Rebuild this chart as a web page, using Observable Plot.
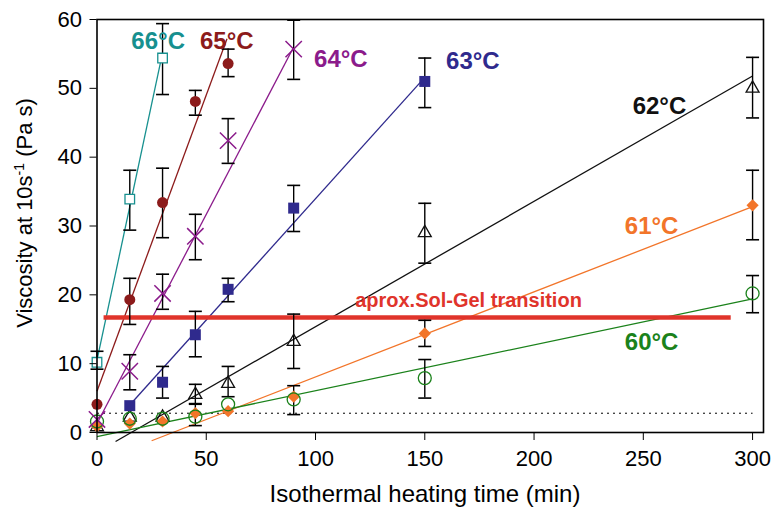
<!DOCTYPE html>
<html><head><meta charset="utf-8">
<script src="https://cdn.jsdelivr.net/npm/d3@7"></script>
<script src="https://cdn.jsdelivr.net/npm/@observablehq/plot@0.6"></script>
<style>body{margin:0;background:#fff} svg{display:block}</style>
</head><body><div id="chart"></div>
<script>
// ---- data ----
const temps = ["66°C","65°C","64°C","63°C","62°C","61°C","60°C"];
const colors = ["#17908f","#8c1b1b","#8b1b8b","#2f2a8d","#111111","#f2752a","#1b821b"];

const t66 = [0,15,30];
const v66 = [10.2,33.9,54.4];
const lo66 = [9.2,29.4,49.1];
const hi66 = [11.8,38.1,59.4];

const t65 = [0,15,30,45,60];
const v65 = [4.1,19.3,33.4,48.1,53.6];
const lo65 = [null,15.7,28.3,46.1,51.7];
const hi65 = [null,22.4,38.4,49.7,55.7];

const t64 = [0,15,30,45,60,90];
const v64 = [1.9,8.9,20.2,28.5,42.4,55.7];
const lo64 = [null,6.2,17.9,25.1,39.1,51.3];
const hi64 = [null,11.3,23.0,31.7,45.6,59.9];

const t63 = [15,30,45,60,90,150];
const v63 = [3.9,7.3,14.2,20.8,32.6,51.0];
const lo63 = [null,5.0,11.0,19.0,29.2,47.2];
const hi63 = [null,9.6,17.6,22.4,35.9,54.4];

const t62 = [0,15,30,45,60,90,150,300];
const v62 = [0.8,2.2,2.2,5.5,7.1,13.2,29.0,50.0];
const lo62 = [null,null,null,4.2,5.2,9.3,24.6,45.7];
const hi62 = [null,null,null,7.0,9.6,17.2,33.3,54.5];

const t61 = [0,15,30,45,60,90,150,300];
const v61 = [0.9,1.3,1.6,2.8,3.1,5.2,14.4,33.0];
const lo61 = [null,null,null,null,null,null,12.5,28.0];
const hi61 = [null,null,null,null,null,null,16.3,38.1];

const t60 = [0,15,30,45,60,90,150,300];
const v60 = [1.6,2.0,2.0,2.3,4.1,4.8,7.9,20.2];
const lo60 = [null,null,null,1.0,null,2.6,5.0,17.4];
const hi60 = [null,null,null,4.1,null,6.8,10.6,22.8];

// fitted lines: start/end points (time, viscosity)
const fitStartT = [0, 0, 0, 15, 8.5, 25, 0];
const fitStartV = [10.5, 6.0, 1.3, 4.0, -1.3, -1.2, -0.6];
const fitEndT   = [29.7, 59.5, 90, 150, 300, 300, 300];
const fitEndV   = [54.7, 57.2, 56.0, 51.6, 51.8, 32.8, 19.4];

const dottedLevel = 2.8;
const dottedRange = [0, 300];
const gelLevel = 16.7;
const gelRange = [3, 290];
const gelText = "aprox.Sol-Gel transition";
const gelTextT = 170;

// label anchors (time, viscosity)
const labelT = [28, 59.4, 111.6, 172, 257.4, 253.8, 253.8];
const labelV = [56.8, 56.8, 54.2, 53.9, 47.4, 29.9, 13.1];

const xTicks = [0,50,100,150,200,250,300];
const yTicks = [0,10,20,30,40,50,60];
const xTitle = "Isothermal heating time (min)";

// ---- build tables ----
const series = [
  [t66,v66,lo66,hi66],[t65,v65,lo65,hi65],[t64,v64,lo64,hi64],[t63,v63,lo63,hi63],
  [t62,v62,lo62,hi62],[t61,v61,lo61,hi61],[t60,v60,lo60,hi60]
];
const rows = [];
series.forEach(([t,v,lo,hi],k)=>t.forEach((x,i)=>rows.push({temp:temps[k],color:colors[k],t:x,v:v[i],lo:lo[i],hi:hi[i]})));
const errs = rows.filter(d=>d.lo!=null);
const fits = temps.map((n,k)=>({temp:n,color:colors[k],t1:fitStartT[k],v1:fitStartV[k],t2:fitEndT[k],v2:fitEndV[k]}));
const labels = temps.map((n,k)=>({name:n,color:colors[k],t:labelT[k],v:labelV[k]}));
const of = n => rows.filter(d=>d.temp===n);

const cap = {draw(ctx,size){const w=Math.sqrt(size/Math.PI);ctx.moveTo(-w,0);ctx.lineTo(w,0);}};

const plot = Plot.plot({
  width:783, height:514,
  marginLeft:96.5, marginRight:20, marginTop:19, marginBottom:82,
  style:{fontFamily:"'Liberation Sans', Arial, sans-serif", color:"black", background:"white", overflow:"visible"},
  x:{domain:[0,305]},
  y:{domain:[0,60]},
  marks:[
    Plot.link([{a:dottedRange[0],b:dottedRange[1],v:dottedLevel}],{x1:"a",x2:"b",y1:"v",y2:"v",stroke:"black",strokeWidth:1,strokeDasharray:"2,4"}),
    Plot.link(fits,{x1:"t1",y1:"v1",x2:"t2",y2:"v2",stroke:"color",strokeWidth:1.3}),
    Plot.link([{a:gelRange[0],b:gelRange[1],v:gelLevel}],{x1:"a",x2:"b",y1:"v",y2:"v",stroke:"#e0342b",strokeWidth:4.5}),
    Plot.text([{t:gelTextT,v:gelLevel,s:gelText}],{x:"t",y:"v",text:"s",dy:-17,fill:"#e0342b",fontSize:20,fontWeight:"bold"}),
    Plot.ruleX(errs,{x:"t",y1:"lo",y2:"hi",stroke:"black",strokeWidth:1.4}),
    Plot.dot(errs,{x:"t",y:"lo",symbol:cap,r:6.5,stroke:"black",strokeWidth:1.6}),
    Plot.dot(errs,{x:"t",y:"hi",symbol:cap,r:6.5,stroke:"black",strokeWidth:1.6}),
    Plot.dot(of("62°C"),{x:"t",y:"v",symbol:"triangle",r:4.8,stroke:colors[4],fill:"none",strokeWidth:1.3}),
    Plot.dot(of("61°C"),{x:"t",y:"v",symbol:"diamond2",r:5.5,fill:colors[5],stroke:"none"}),
    Plot.dot(of("60°C"),{x:"t",y:"v",symbol:"circle",r:6.5,stroke:colors[6],fill:"none",strokeWidth:1.3}),
    Plot.dot(of("63°C"),{x:"t",y:"v",symbol:"square",r:6.2,fill:colors[3],stroke:"none"}),
    Plot.dot(of("64°C"),{x:"t",y:"v",symbol:"times",r:7.5,stroke:colors[2],strokeWidth:1.5}),
    Plot.dot(of("65°C"),{x:"t",y:"v",symbol:"circle",r:5.5,fill:colors[1],stroke:"none"}),
    Plot.dot(of("66°C"),{x:"t",y:"v",symbol:"square",r:5.4,stroke:colors[0],fill:"white",strokeWidth:1.3}),
    Plot.text(labels,{x:"t",y:"v",text:"name",fill:"color",fontSize:24,fontWeight:"bold"}),
    Plot.axisX({ticks:xTicks,tickSize:8,tickPadding:10,fontSize:22,label:null,tickFormat:d=>String(d)}),
    Plot.axisY({ticks:yTicks,tickSize:7,tickPadding:8,fontSize:22,label:null,tickFormat:d=>String(d)}),
    Plot.frame({stroke:"black",strokeWidth:1.6})
  ]
});
document.getElementById("chart").appendChild(plot);

const svg = d3.select(plot);
svg.append("text").attr("x",425).attr("y",502).attr("text-anchor","middle")
  .attr("font-size",24).attr("fill","black").text(xTitle);
const yt = svg.append("text").attr("transform","translate(32,213) rotate(-90)").attr("text-anchor","middle")
  .attr("font-size",22).attr("fill","black");
yt.append("tspan").text("Viscosity at 10s");
yt.append("tspan").attr("dy",-8).attr("font-size",14).text("-1");
yt.append("tspan").attr("dy",8).text(" (Pa s)");
</script></body></html>
